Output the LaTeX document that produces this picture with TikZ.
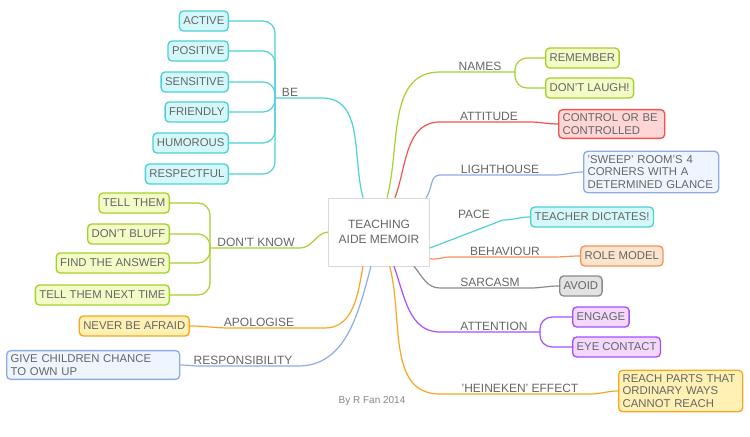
\documentclass[tikz,border=0pt]{standalone}
\usepackage{fontspec}
\setmainfont{Liberation Sans}
\usetikzlibrary{calc}
\definecolor{cyanL}{HTML}{4DD0D8}\definecolor{cyanF}{HTML}{D4F8FA}
\definecolor{limeL}{HTML}{A6D02A}\definecolor{limeF}{HTML}{F3FBC6}
\definecolor{redL}{HTML}{EF5350}\definecolor{redF}{HTML}{FFD6D6}
\definecolor{blueL}{HTML}{8FABE6}\definecolor{blueF}{HTML}{EEF5FF}
\definecolor{orgL}{HTML}{F4925A}\definecolor{orgF}{HTML}{FDE4CC}
\definecolor{greyL}{HTML}{8A8A8A}\definecolor{greyF}{HTML}{E2E2E2}
\definecolor{purL}{HTML}{A64DFF}\definecolor{purF}{HTML}{F2D8FC}
\definecolor{ambL}{HTML}{F5A623}\definecolor{ambF}{HTML}{FFF0B3}
\definecolor{txt}{HTML}{666666}

\begin{document}
\begin{tikzpicture}[x=0.75pt,y=-0.75pt,
  every node/.style={font=\fontsize{8.5}{9.5}\selectfont,text=txt},
  leaf/.style={draw=#1L,fill=#1F,line width=1pt,rounded corners=3pt,
    minimum height=15pt,inner sep=3pt,align=left},
  br/.style={draw=#1L,line width=0.9pt},
  brk/.style={draw=#1L,line width=0.9pt,rounded corners=9pt},
  lbl/.style={anchor=south,inner sep=1pt,font=\fontsize{9}{10}\selectfont}]
\useasboundingbox (0,0) rectangle (750,436);

% root
\node[draw=white!85!black,fill=white,minimum width=76pt,minimum height=51pt,align=center,
  font=\fontsize{9}{11}\selectfont] (root) at (379,232) {TEACHING\\AIDE MEMOIR};

% left side: BE
\coordinate (BEj) at (275,98);
\node[lbl] (BE) at (290,98) {BE};
\draw[br=cyan] ([xshift=-12]root.north) to[out=105,in=0] (322,98) -- (BEj);
\foreach \t/\y/\n in {ACTIVE/21/a,POSITIVE/51/b,SENSITIVE/82/c,FRIENDLY/112/d,HUMOROUS/143/e,RESPECTFUL/174/f}{
  \node[leaf=cyan,anchor=east] (be\n) at (229,\y) {\t};
  \draw[brk=cyan] (BEj) |- (be\n.east);
}

% DON'T KNOW
\coordinate (DKj) at (210,248);
\node[lbl] (DK) at (256,248) {DON'T KNOW};
\draw[br=lime] (root.west) to[out=185,in=0] (300,248) -- (DKj);
\foreach \t/\y/\n in {TELL THEM/203/a,DON'T BLUFF/234/b,FIND THE ANSWER/263/c,TELL THEM NEXT TIME/295/d}{
  \node[leaf=lime,anchor=east] (dk\n) at (170,\y) {\t};
  \draw[brk=lime] (DKj) |- (dk\n.east);
}

% APOLOGISE
\node[lbl] (AP) at (259,328) {APOLOGISE};
\node[leaf=amb,anchor=east] (apa) at (190,326) {NEVER BE AFRAID};
\draw[br=amb] ([xshift=-12]root.south) to[out=260,in=0] (325,328) -- (230,328)
  to[out=180,in=0] (apa.east);

% RESPONSIBILITY
\node[lbl] (RS) at (243,366) {RESPONSIBILITY};
\node[leaf=blue,anchor=west,text width=165pt*0.75] (rsa) at (6,365) {GIVE CHILDREN CHANCE\\TO OWN UP};
\draw[br=blue] ([xshift=-6]root.south) to[out=255,in=0] (298,366) -- (200,366)
  to[out=180,in=0] (rsa.east);

% right side: NAMES
\coordinate (NMj) at (515,72);
\node[lbl] (NM) at (480,72) {NAMES};
\draw[br=lime] ([xshift=6]root.north) to[out=75,in=180] (440,72) -- (NMj);
\node[leaf=lime,anchor=west] (nma) at (545,58) {REMEMBER};
\node[leaf=lime,anchor=west] (nmb) at (545,88) {DON'T LAUGH!};
\draw[brk=lime] (NMj) |- (nma.west);
\draw[brk=lime] (NMj) |- (nmb.west);

% ATTITUDE
\node[lbl] (AT) at (489,122) {ATTITUDE};
\node[leaf=red,anchor=west,text width=98pt*0.75] (ata) at (558,124) {CONTROL OR BE\\CONTROLLED};
\draw[br=red] ([xshift=12]root.north) to[out=70,in=180] (440,122) -- (530,122)
  to[out=0,in=180] (ata.west);

% LIGHTHOUSE
\node[lbl] (LH) at (500,175) {LIGHTHOUSE};
\node[leaf=blue,anchor=west,text width=127pt*0.75] (lha) at (583,172) {'SWEEP' ROOM'S 4\\CORNERS WITH A\\DETERMINED GLANCE};
\draw[br=blue] ([xshift=-3]root.north east) to[out=50,in=180] (440,175) -- (555,175)
  to[out=0,in=180] (lha.west);

% PACE
\node[lbl] (PC) at (474,220) {PACE};
\node[leaf=cyan,anchor=west] (pca) at (530,217) {TEACHER DICTATES!};
\draw[br=cyan] ([yshift=-12]root.east) -- (503,220) to[out=0,in=180] (pca.west);

% BEHAVIOUR
\node[lbl] (BH) at (505,257) {BEHAVIOUR};
\node[leaf=org,anchor=west] (bha) at (580,256) {ROLE MODEL};
\draw[br=org] ([yshift=-20]root.east) to[out=-10,in=180] (450,257) -- (553,257)
  to[out=0,in=180] (bha.west);

% SARCASM
\node[lbl] (SC) at (490,288) {SARCASM};
\node[leaf=grey,anchor=west] (sca) at (559,286) {AVOID};
\draw[br=grey] ([xshift=-12]root.south east) to[out=-50,in=180] (440,288) -- (530,288)
  to[out=0,in=180] (sca.west);

% ATTENTION
\coordinate (ATj) at (540,332);
\node[lbl] (AN) at (494,332) {ATTENTION};
\draw[br=pur] ([xshift=-27]root.south east) to[out=-70,in=180] (440,332) -- (ATj);
\node[leaf=pur,anchor=west] (ana) at (572,317) {ENGAGE};
\node[leaf=pur,anchor=west] (anb) at (572,347) {EYE CONTACT};
\draw[brk=pur] (ATj) |- (ana.west);
\draw[brk=pur] (ATj) |- (anb.west);

% 'HEINEKEN' EFFECT
\node[lbl] (HE) at (520,394) {'HEINEKEN' EFFECT};
\node[leaf=amb,anchor=west,text width=116pt*0.75] (hea) at (618,391) {REACH PARTS THAT\\ORDINARY WAYS\\CANNOT REACH};
\draw[br=amb] ([xshift=8]root.south) to[out=-75,in=180] (440,394) -- (590,394)
  to[out=0,in=180] (hea.west);

% footer
\node[font=\fontsize{7.5}{9}\selectfont,text=txt!80] (foot) at (372,401) {By R Fan 2014};
\end{tikzpicture}
\end{document}
